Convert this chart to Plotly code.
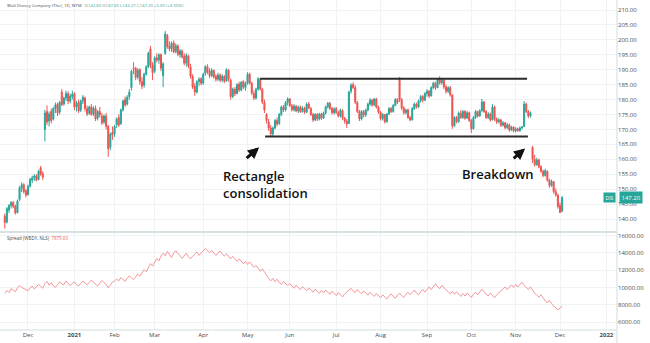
import pandas as pd
import plotly.graph_objects as go

# ---- NYSE session calendar (trading-day index drives the x axis) ----
market_holidays = ["2020-11-26", "2020-12-25", "2021-01-01", "2021-01-18", "2021-02-15",
                   "2021-04-02", "2021-05-31", "2021-07-05", "2021-09-06", "2021-11-25",
                   "2021-12-24"]
sessions = pd.bdate_range("2020-11-13", "2022-01-07", freq="C", holidays=market_holidays)

# ---- DIS daily OHLC, 13 Nov 2020 .. 2 Dec 2021 ----
opens = [
    141.0, 139.0, 143.0, 144.5, 145.5, 144.3, 142.2, 146.5, 150.3, 151.5, 149.5,
    148.2, 151.0, 153.0, 153.8, 154.5, 153.2, 157.2, 155.2, 170.0, 176.0, 172.8, 176.0, 173.5, 177.0, 178.5, 175.8, 182.5, 178.5, 180.5, 182.0, 179.5, 181.0,
    182.0, 177.5, 179.0, 176.5, 179.5, 180.5, 177.0, 175.5, 177.5, 175.2, 177.0, 173.8, 176.0, 174.5, 172.5, 174.5, 171.0, 164.0, 169.0,
    168.5, 171.5, 174.0, 172.0, 176.5, 180.0, 178.5, 181.0, 184.0, 190.5, 190.5, 187.5, 190.0, 186.0, 184.8, 188.5, 191.0, 197.0, 191.5,
    189.5, 194.0, 193.2, 195.0, 188.0, 195.5, 201.5, 198.0, 197.0, 199.0, 196.0, 198.0, 195.0, 196.3, 194.5, 192.2, 194.5, 191.0, 187.8, 184.5, 182.5, 186.0, 187.0,
    185.5, 188.8, 191.0, 189.5, 188.0, 189.8, 187.8, 186.8, 188.2, 186.5, 187.8, 186.2, 189.8, 186.5, 181.0, 183.5, 182.0, 185.2, 183.2, 186.0, 184.0,
    185.5, 188.5, 185.5, 182.0, 180.5, 183.5, 186.8, 183.5, 179.0, 175.0, 172.5, 170.5, 168.5, 170.5, 173.0, 172.0, 175.0, 177.5, 176.5, 179.0,
    180.2, 178.0, 176.6, 177.8, 176.2, 177.5, 176.0, 177.2, 175.8, 178.5, 177.0, 175.0, 173.2, 175.0, 173.5, 175.2, 173.8, 175.5, 177.5, 178.8, 177.0, 175.6,
    177.0, 175.6, 174.5, 176.2, 173.8, 172.8, 172.0, 182.8, 185.0, 184.0, 179.0, 176.0, 173.5, 176.0, 174.8, 176.5, 178.5, 179.8, 178.2, 180.2, 177.5,
    175.8, 173.6, 175.0, 172.6, 175.2, 177.0, 176.0, 178.0, 180.0, 186.8, 180.0, 177.2, 175.6, 176.5, 174.0, 173.2, 177.0, 178.5, 177.5, 179.6, 181.0, 179.8,
    182.0, 182.8, 181.2, 184.0, 185.5, 184.0, 187.0, 185.6, 186.5, 184.2, 182.8, 184.0, 181.5, 171.2, 174.0, 172.6, 175.5, 174.0, 176.0, 173.8, 175.6,
    173.0, 170.2, 174.0, 176.0, 174.5, 176.2, 179.2, 176.0, 174.0, 175.2, 173.2, 177.5, 173.5, 172.5, 173.2, 171.4, 172.2, 170.6, 171.5, 169.8, 170.8,
    169.5, 170.2, 169.6, 170.5, 171.0, 178.5, 176.0, 174.5, 164.0, 160.0, 158.2, 159.8, 157.5, 156.0, 154.6, 156.0, 153.0, 151.2, 152.5, 149.2, 148.0,
    144.5, 142.60,
]
highs = [
    141.8, 144.0, 145.0, 146.0, 146.0, 144.8, 146.5, 151.0, 152.3, 152.0, 150.0,
    151.5, 153.8, 154.5, 155.0, 155.0, 156.5, 157.8, 156.0, 176.5, 178.0, 176.0, 177.0, 177.5, 179.0, 179.0, 179.5, 183.5, 181.0, 183.0, 182.8, 182.0, 183.0,
    182.5, 179.5, 180.0, 180.0, 181.5, 181.0, 178.0, 178.0, 178.5, 177.8, 178.0, 176.5, 177.5, 175.5, 175.0, 175.5, 171.5, 169.0, 171.0,
    171.5, 174.0, 175.0, 177.0, 180.0, 181.0, 181.5, 183.5, 190.0, 192.5, 191.0, 190.5, 190.5, 187.5, 189.0, 191.5, 196.0, 198.0, 192.5,
    194.5, 195.5, 195.5, 195.5, 192.5, 203.0, 202.0, 199.5, 199.5, 199.8, 198.8, 198.5, 197.0, 196.8, 195.5, 195.5, 195.0, 192.0, 188.5, 185.5, 186.5, 187.5, 187.5,
    189.0, 191.5, 191.8, 190.5, 190.5, 190.0, 188.5, 189.0, 188.8, 188.5, 188.2, 190.5, 190.2, 187.0, 184.0, 184.2, 185.5, 186.0, 186.2, 186.5, 186.0,
    189.2, 189.0, 186.0, 183.0, 184.0, 187.5, 187.2, 184.0, 180.0, 175.5, 173.5, 171.5, 171.0, 173.5, 174.0, 175.5, 178.0, 178.2, 179.5, 180.8,
    180.5, 178.5, 178.5, 178.2, 178.0, 178.0, 177.8, 177.6, 179.0, 179.2, 177.5, 175.6, 175.5, 175.5, 175.6, 175.6, 176.0, 178.0, 179.2, 179.2, 177.5, 177.5,
    177.5, 176.2, 177.0, 176.8, 174.2, 173.5, 183.0, 185.5, 185.8, 184.8, 179.5, 176.5, 176.5, 176.5, 177.0, 179.0, 180.5, 180.2, 180.5, 180.6, 178.0,
    176.2, 175.5, 175.2, 175.5, 177.5, 177.5, 178.5, 180.5, 180.5, 187.6, 180.5, 177.8, 177.0, 177.0, 174.5, 177.5, 179.0, 179.0, 180.0, 181.5, 181.5, 182.5,
    183.5, 183.2, 184.5, 186.0, 186.0, 187.2, 187.8, 187.0, 187.0, 185.0, 184.5, 184.5, 181.8, 174.5, 174.5, 176.0, 176.5, 176.5, 176.5, 176.2, 176.0,
    173.5, 174.5, 176.5, 176.3, 176.8, 180.2, 179.6, 176.5, 175.8, 175.6, 178.5, 178.0, 174.0, 173.8, 173.5, 172.8, 172.5, 172.2, 172.0, 171.2, 171.0,
    170.8, 170.6, 171.0, 171.2, 179.5, 179.0, 176.5, 176.0, 164.5, 161.5, 160.5, 160.2, 158.0, 156.5, 156.8, 156.3, 153.5, 153.2, 152.8, 150.2, 148.5,
    145.5, 147.65,
]
lows = [
    136.8, 138.5, 142.0, 143.5, 143.6, 141.5, 141.8, 146.0, 149.0, 148.5, 147.2,
    147.8, 150.5, 152.0, 152.8, 152.6, 153.0, 154.5, 153.0, 166.0, 171.5, 171.0, 172.0, 173.0, 175.5, 174.5, 175.0, 177.8, 178.0, 179.5, 178.5, 178.8, 180.0,
    176.5, 176.0, 175.5, 175.8, 178.5, 176.0, 174.5, 174.8, 174.6, 174.5, 172.8, 173.0, 174.0, 171.5, 171.8, 170.0, 160.8, 163.0, 166.5,
    167.5, 170.5, 170.8, 171.5, 176.0, 177.5, 178.0, 180.0, 183.0, 188.5, 186.5, 186.8, 185.0, 183.5, 184.0, 188.0, 190.5, 190.5, 186.5,
    188.8, 192.5, 192.0, 189.5, 184.2, 195.0, 197.0, 196.2, 196.0, 195.5, 195.5, 194.5, 194.0, 193.8, 191.5, 191.0, 190.5, 187.0, 183.5, 181.3, 182.0, 184.5, 184.8,
    185.0, 188.0, 188.5, 187.2, 187.5, 187.0, 186.0, 186.2, 185.8, 185.8, 185.5, 186.0, 186.0, 180.0, 180.5, 181.2, 181.8, 182.5, 182.8, 183.5, 183.0,
    185.0, 185.0, 181.5, 179.8, 180.0, 183.0, 183.0, 178.5, 175.5, 172.0, 169.5, 167.6, 167.5, 170.0, 171.0, 171.5, 174.5, 175.8, 176.0, 178.0,
    177.5, 176.0, 176.0, 175.8, 175.5, 175.5, 175.6, 175.2, 175.5, 176.8, 174.5, 172.5, 172.8, 172.8, 173.0, 173.2, 173.5, 175.0, 177.0, 176.5, 175.0, 175.0,
    175.2, 174.0, 174.0, 173.2, 172.0, 170.5, 171.8, 182.0, 183.5, 178.5, 175.5, 172.8, 173.0, 174.0, 174.2, 176.0, 177.8, 177.6, 177.8, 177.0, 175.2,
    173.0, 173.0, 172.0, 172.2, 174.8, 175.5, 175.6, 177.8, 178.5, 179.2, 176.5, 175.0, 175.0, 173.5, 172.8, 173.0, 176.5, 177.0, 177.2, 179.0, 179.0, 179.5,
    181.0, 180.5, 181.0, 183.5, 183.2, 183.8, 185.0, 185.0, 183.5, 182.0, 182.2, 181.0, 170.2, 170.8, 172.0, 172.2, 173.5, 173.5, 173.2, 173.5, 172.5,
    168.8, 170.0, 173.5, 174.0, 174.2, 176.0, 175.5, 173.5, 173.5, 172.6, 173.0, 172.8, 171.8, 172.0, 170.8, 171.0, 170.0, 170.2, 169.2, 169.5, 169.0,
    169.0, 169.2, 169.2, 170.0, 170.8, 175.5, 173.8, 174.0, 158.8, 157.5, 157.8, 157.0, 155.5, 154.0, 154.2, 152.5, 150.5, 150.8, 148.5, 147.5, 143.5,
    142.0, 142.27,
]
closes = [
    138.8, 143.5, 144.5, 145.5, 144.2, 142.0, 146.0, 150.5, 151.5, 149.2, 148.0,
    151.0, 153.2, 153.8, 154.4, 153.0, 156.0, 155.0, 154.0, 175.5, 172.5, 175.2, 173.0, 177.0, 178.2, 175.5, 179.0, 178.3, 180.5, 182.0, 179.5, 181.2, 181.8,
    177.5, 178.8, 176.2, 179.5, 180.8, 177.0, 175.2, 177.5, 175.0, 177.2, 173.5, 176.0, 174.8, 172.2, 174.5, 171.0, 163.5, 168.5, 168.1,
    171.0, 173.5, 171.5, 176.5, 179.5, 178.2, 180.8, 182.5, 189.5, 190.2, 187.5, 189.8, 186.0, 184.5, 188.5, 191.0, 195.5, 191.5, 189.0,
    194.0, 193.2, 195.0, 190.5, 192.0, 202.0, 197.8, 197.0, 198.8, 196.0, 198.0, 195.2, 196.3, 194.2, 192.2, 194.8, 191.2, 187.8, 184.2, 182.5, 186.0, 186.8, 185.5,
    188.5, 191.0, 189.2, 188.0, 189.8, 187.6, 186.8, 188.2, 186.5, 187.8, 186.2, 190.0, 186.8, 181.0, 183.5, 182.0, 185.0, 183.2, 185.8, 184.2, 185.5,
    188.5, 185.5, 182.2, 180.5, 183.5, 187.0, 183.6, 179.2, 176.5, 173.0, 170.5, 168.5, 170.5, 173.0, 171.8, 175.0, 177.5, 176.5, 179.0, 180.2,
    178.0, 176.6, 177.8, 176.2, 177.5, 176.0, 177.2, 175.8, 178.5, 177.2, 175.0, 173.2, 175.0, 173.5, 175.2, 173.8, 175.5, 177.6, 178.8, 177.0, 175.6, 176.8,
    175.6, 174.5, 176.5, 173.8, 172.8, 171.8, 182.5, 184.8, 184.0, 179.2, 176.0, 173.5, 176.0, 174.8, 176.5, 178.5, 179.8, 178.2, 180.2, 177.5, 175.8,
    173.6, 175.0, 172.6, 175.2, 177.0, 176.0, 178.0, 180.0, 179.0, 180.0, 177.2, 175.6, 176.5, 174.0, 173.2, 177.0, 178.5, 177.5, 179.6, 181.0, 179.8, 182.0,
    182.8, 181.2, 184.0, 185.5, 184.0, 186.8, 185.6, 186.5, 184.2, 182.8, 184.0, 181.6, 171.2, 174.0, 172.6, 175.5, 174.0, 176.0, 173.8, 175.6, 173.0,
    170.2, 174.0, 176.0, 174.5, 176.2, 179.2, 176.0, 174.0, 175.2, 173.2, 177.5, 173.5, 172.5, 173.2, 171.4, 172.2, 170.6, 171.5, 169.8, 170.8, 169.5,
    170.2, 169.6, 170.5, 170.8, 178.5, 176.0, 174.5, 175.5, 160.0, 158.2, 159.8, 157.5, 156.0, 154.6, 156.2, 153.0, 151.2, 152.6, 149.2, 148.0, 144.2,
    142.15, 147.20,
]

# ---- lower pane: spread study ----
spread = [
    9300, 9650, 9400, 9850, 9700, 9500, 9950, 10250, 10000, 9850, 9650,
    9600, 9950, 10150, 9800, 10050, 10350, 10100, 9900, 10450, 10700, 10250, 10550, 10200, 10000, 10300, 10650, 10400, 10300, 10750, 10500, 10200, 10450,
    10650, 10300, 10150, 10450, 10750, 10500, 10300, 10550, 10850, 10600, 10350, 10150, 10500, 10800, 10550, 10350, 9950, 10300, 10600,
    10750, 10950, 10750, 11150, 10900, 10700, 11050, 11350, 11100, 10900, 11250, 11550, 11300, 11750, 12050, 11800, 12350, 12750, 12450,
    12950, 13350, 13050, 13650, 13950, 13650, 14150, 13800, 13450, 13950, 14250, 13900, 13700, 13350, 13700, 13950, 13550, 13300, 13600, 13850, 14100, 13700, 13950,
    14250, 14500, 14250, 14000, 14300, 13950, 13700, 14000, 14200, 13850, 13600, 13900, 13550, 13300, 13600, 13250, 13000, 13300, 12950, 12750, 13000,
    12650, 12950, 12550, 12300, 12550, 12150, 11850, 12150, 11750, 11350, 11050, 10750, 11050, 10650, 10950, 10550, 10350, 10700, 10400, 10200,
    10450, 10100, 9900, 10250, 9950, 9750, 10100, 9800, 9600, 9950, 9650, 9450, 9800, 9500, 9300, 9650, 9350, 9700, 9400, 9200, 9550, 9250,
    9050, 9400, 9100, 8900, 9250, 9450, 9650, 9900, 9600, 9400, 9750, 9450, 9250, 9600, 9300, 9100, 9450, 9150, 8950, 9300, 9000,
    8800, 9150, 8850, 8650, 9000, 9250, 8950, 8750, 9100, 9350, 9050, 8850, 9200, 9450, 9150, 9500, 9700, 9350, 9150, 9500, 9750, 9450,
    9800, 10050, 9750, 10150, 10400, 10100, 9850, 10250, 9950, 9700, 9500, 9250, 9550, 9200, 9500, 9150, 8950, 9300, 9000, 9350, 9050,
    8850, 9200, 9450, 9150, 9550, 9800, 9500, 9250, 9000, 9350, 9050, 8800, 9150, 9400, 9600, 9850, 10050, 9750, 10100, 10300, 10000,
    10350, 10050, 10400, 10600, 10250, 10000, 9750, 10050, 9650, 9350, 9100, 8850, 9150, 8750, 8450, 8200, 8500, 8100, 7850, 7600, 7400,
    7600, 7875,
]

month_labels = ["Dec", "<b>2021</b>", "Feb", "Mar", "Apr", "May", "Jun", "Jul", "Aug",
                "Sep", "Oct", "Nov", "Dec", "<b>2022</b>"]
price_ticks = [140, 145, 150, 155, 160, 165, 170, 175, 180, 185, 190, 195, 200, 205, 210]
spread_ticks = [6000, 8000, 10000, 12000, 14000, 16000]

# rectangle consolidation boundaries (price) and the bars they span
rect_top, rect_bottom = 187.0, 167.6
rect_top_span = (120.9, 247.4)
rect_bottom_span = (123.3, 247.8)

n = len(closes)
bar_x = list(range(n))
month_key = sessions.to_period("M")
month_first = [i for i in range(1, len(sessions)) if month_key[i] != month_key[i - 1]]
tick_x = month_first[:len(month_labels)]

UP, DOWN = "#26a69a", "#ef5350"
GRID = "#f0f2f5"
EDGE = "#cfdedc"
FONT = "Open Sans"

fig = go.Figure()
fig.add_trace(go.Candlestick(
    x=bar_x, open=opens, high=highs, low=lows, close=closes,
    increasing=dict(line=dict(color=UP, width=1), fillcolor=UP),
    decreasing=dict(line=dict(color=DOWN, width=1), fillcolor=DOWN),
    whiskerwidth=0, xaxis="x", yaxis="y", showlegend=False, hoverinfo="skip",
))
fig.add_trace(go.Scatter(
    x=bar_x, y=spread, mode="lines", line=dict(color="#f4989a", width=1),
    xaxis="x2", yaxis="y2", showlegend=False, hoverinfo="skip",
))

split = 98 / 330
x_range = [-2.26, 290.0]
fig.update_layout(
    width=650, height=343,
    margin=dict(l=0, r=33, t=0, b=13),
    paper_bgcolor="white", plot_bgcolor="white",
    font=dict(family=FONT, size=6, color="#4a4a4a"),
    xaxis=dict(domain=[0, 1], anchor="y", range=x_range, tickvals=tick_x,
               showticklabels=False, showgrid=True, gridcolor=GRID, gridwidth=1,
               zeroline=False, rangeslider=dict(visible=False), fixedrange=True),
    xaxis2=dict(domain=[0, 1], anchor="y2", range=x_range, tickvals=tick_x,
                ticktext=month_labels, showgrid=True, gridcolor=GRID, gridwidth=1,
                zeroline=False, ticks="", tickfont=dict(size=6, color="#4a4a4a")),
    yaxis=dict(domain=[split, 1], anchor="x", side="right", range=[135.65, 213.35],
               tickvals=price_ticks, tickformat=".2f", showgrid=True, gridcolor=GRID,
               zeroline=False, ticks="", tickfont=dict(size=6, color="#4a4a4a")),
    yaxis2=dict(domain=[0, split], anchor="x2", side="right", range=[5075, 16405],
                tickvals=spread_ticks, tickformat=".2f", showgrid=True, gridcolor=GRID,
                zeroline=False, ticks="", tickfont=dict(size=6, color="#4a4a4a")),
)

shapes = [
    # pane separator, price-scale border, time-scale border
    dict(type="line", xref="paper", yref="paper", x0=0, x1=1, y0=split, y1=split,
         line=dict(color="#d8e2e2", width=2)),
    dict(type="line", xref="paper", yref="paper", x0=1, x1=1, y0=-13 / 330, y1=1,
         line=dict(color=EDGE, width=1)),
    dict(type="line", xref="paper", yref="paper", x0=0, x1=1, y0=0, y1=0,
         line=dict(color=EDGE, width=1)),
    # rectangle boundaries
    dict(type="line", xref="x", yref="y", x0=rect_top_span[0], x1=rect_top_span[1],
         y0=rect_top, y1=rect_top, line=dict(color="#2b2b2b", width=2)),
    dict(type="line", xref="x", yref="y", x0=rect_bottom_span[0], x1=rect_bottom_span[1],
         y0=rect_bottom, y1=rect_bottom, line=dict(color="#2b2b2b", width=2)),
]
fig.update_layout(shapes=shapes)

label_font = dict(family=FONT, size=13, color="#111111", weight=600)
arrow_style = dict(text="", showarrow=True, arrowhead=2, arrowsize=0.75, arrowwidth=3,
                   arrowcolor="#111111", axref="pixel", ayref="pixel")
annotations = [
    dict(xref="paper", yref="paper", x=0.008, y=1 - 5 / 330, xanchor="left", yanchor="middle",
         showarrow=False, align="left", font=dict(family=FONT, size=4.3, color="#4a4a4a"),
         text="Walt Disney Company (The), 1D, NYSE  <span style='color:#26a69a'>O142.60 H147.65 "
              "L142.27 C147.20 +5.05 (+3.55%)</span>"),
    dict(xref="paper", yref="paper", x=0.008, y=split - 6 / 330, xanchor="left", yanchor="middle",
         showarrow=False, align="left", font=dict(family=FONT, size=4.5, color="#4a4a4a"),
         text="Spread (WBDY, NLS)  <span style='color:#ef5350'>7875.00</span>"),
    dict(xref="x", yref="y", x=102.4, y=151.4, xanchor="left", yanchor="middle", align="left",
         showarrow=False, font=label_font, text="Rectangle<br>consolidation"),
    dict(xref="x", yref="y", x=215.6, y=155.0, xanchor="left", yanchor="middle",
         showarrow=False, font=label_font, text="Breakdown"),
    dict(xref="x", yref="y", x=120.5, y=164.0, ax=-14, ay=12, **arrow_style),
    dict(xref="x", yref="y", x=246.5, y=163.6, ax=-13, ay=11, **arrow_style),
    # last-price markers on the price scale
    dict(xref="paper", yref="y", x=1.003, y=closes[-1], xanchor="left", yanchor="middle",
         showarrow=False, bgcolor=UP, borderpad=1.5,
         font=dict(family=FONT, size=6, color="white"), text=f"{closes[-1]:.2f}"),
    dict(xref="paper", yref="y", x=0.998, y=closes[-1], xanchor="right", yanchor="middle",
         showarrow=False, bgcolor=UP, borderpad=1.5,
         font=dict(family=FONT, size=5, color="white"), text="DIS"),
]
fig.update_layout(annotations=annotations)

fig.write_html("out.html")
